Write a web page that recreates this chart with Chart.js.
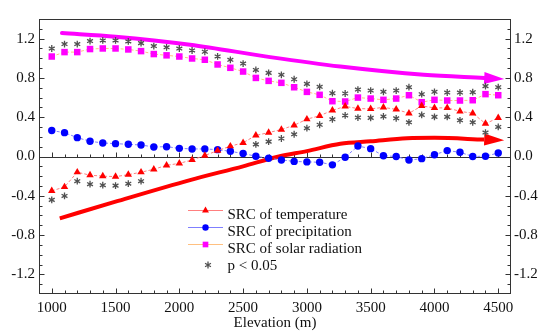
<!DOCTYPE html>
<html><head><meta charset="utf-8">
<script src="https://cdn.jsdelivr.net/npm/chart.js@4/dist/chart.umd.min.js"></script>
<style>html,body{margin:0;padding:0;background:#fff}canvas{display:block}</style>
</head><body>
<canvas id="c" width="550" height="334"></canvas>
<script>
// ---- data ----
const elevation = [1000,1100,1200,1300,1400,1500,1600,1700,1800,1900,2000,2100,2200,2300,2400,2500,2600,2700,2800,2900,3000,3100,3200,3300,3400,3500,3600,3700,3800,3900,4000,4100,4200,4300,4400,4500];
const srcTemperature = [-0.35,-0.31,-0.16,-0.19,-0.20,-0.205,-0.185,-0.16,-0.13,-0.09,-0.07,-0.035,0.01,0.06,0.105,0.14,0.215,0.243,0.275,0.318,0.38,0.415,0.47,0.51,0.488,0.485,0.50,0.48,0.44,0.515,0.495,0.495,0.46,0.44,0.335,0.393];
const srcPrecipitation = [0.264,0.243,0.192,0.155,0.138,0.131,0.124,0.117,0.097,0.10,0.083,0.077,0.077,0.07,0.053,0.03,0.003,-0.018,-0.035,-0.05,-0.055,-0.058,-0.085,-0.008,0.107,0.08,0.008,0.0,-0.036,-0.022,0.018,0.06,0.043,0.0,0.003,0.036];
const srcSolar = [1.018,1.063,1.063,1.094,1.10,1.10,1.09,1.073,1.043,1.03,1.018,0.998,0.985,0.937,0.903,0.865,0.80,0.77,0.75,0.705,0.658,0.628,0.563,0.56,0.60,0.59,0.577,0.59,0.624,0.553,0.577,0.57,0.57,0.573,0.635,0.624];
// significance flags (p < 0.05)
const sigTemperature = [1,1,1,1,1,1,1,1,0,0,0,0,0,0,0,0,1,1,1,1,1,1,1,1,1,1,1,1,1,1,1,1,1,1,1,1];
const sigPrecipitation = [0,0,0,0,0,0,0,0,0,0,0,0,0,0,0,0,0,0,0,0,0,0,0,0,0,0,0,0,0,0,0,0,0,0,0,0];
const sigSolar = [1,1,1,1,1,1,1,1,1,1,1,1,1,1,1,1,1,1,1,1,1,1,1,1,1,1,1,1,1,1,1,1,1,1,1,1];
// trend arrows (hand-drawn curves in the figure, read at a few points)
const trendSolarX = [1080,1500,2084,2712,3262,3916,4390];
const trendSolarY = [1.257,1.22,1.138,1.012,0.916,0.832,0.80];
const trendTempX = [1063,1500,2084,2500,2780,3000,3262,3500,3785,4000,4390];
const trendTempY = [-0.63,-0.46,-0.24,-0.10,0.0,0.055,0.13,0.155,0.185,0.19,0.172];
// axis ticks
const xTickValues = [1000,1500,2000,2500,3000,3500,4000,4500];
const yTickValues = [-1.2,-0.8,-0.4,0.0,0.4,0.8,1.2];
const seriesLabels = ['SRC of temperature','SRC of precipitation','SRC of solar radiation'];
const sigLabel = 'p < 0.05';

const FONT = 'Liberation Serif, Times New Roman, serif';
const pts = (xs, ys) => xs.map((x, i) => ({x: x, y: ys[i]}));

function drawAsterisk(ctx, x, y, r) {
  ctx.beginPath();
  for (let k = 0; k < 3; k++) {
    const a = Math.PI / 2 + k * Math.PI / 3;
    ctx.moveTo(x + Math.cos(a) * r, y + Math.sin(a) * r);
    ctx.lineTo(x - Math.cos(a) * r, y - Math.sin(a) * r);
  }
  ctx.stroke();
}
function drawMarker(ctx, style, x, y, r, color) {
  ctx.fillStyle = color;
  ctx.beginPath();
  if (style === 'triangle') {
    let a = 0;
    ctx.moveTo(x + Math.sin(a) * r, y - Math.cos(a) * r);
    a += 2 * Math.PI / 3; ctx.lineTo(x + Math.sin(a) * r, y - Math.cos(a) * r);
    a += 2 * Math.PI / 3; ctx.lineTo(x + Math.sin(a) * r, y - Math.cos(a) * r);
    ctx.closePath();
  } else if (style === 'circle') {
    ctx.arc(x, y, r, 0, Math.PI * 2);
  } else {
    const s = r * Math.SQRT1_2;
    ctx.rect(x - s, y - s, 2 * s, 2 * s);
  }
  ctx.fill();
}

const framePlugin = {
  id: 'frame',
  beforeDatasetsDraw(chart) {
    const {ctx, chartArea: a, scales} = chart;
    const xs = scales.x, ys = scales.y;
    ctx.save();
    ctx.strokeStyle = '#333';
    ctx.lineWidth = 1;
    ctx.strokeRect(Math.round(a.left) + 0.5, Math.round(a.top) + 0.5, Math.round(a.right - a.left) - 1, Math.round(a.bottom - a.top) - 1);
    const L = Math.round(a.left) + 0.5, R = Math.round(a.right) - 0.5, B = Math.round(a.bottom) - 0.5;
    const z = Math.round(ys.getPixelForValue(0)) + 0.5;
    ctx.beginPath();
    // zero line
    ctx.moveTo(L, z); ctx.lineTo(R, z);
    // x ticks (bottom and on zero line), inside / upward
    for (let v = xs.min; v <= xs.max; v += 100) {
      const major = xTickValues.includes(v);
      const len = major ? 5 : 3;
      const px = Math.round(xs.getPixelForValue(v)) + 0.5;
      if (px <= L + 1 || px >= R - 1) continue;
      ctx.moveTo(px, B); ctx.lineTo(px, B - len);
      ctx.moveTo(px, z); ctx.lineTo(px, z - len);
    }
    // y ticks left and right, inside
    for (let k = -14; k <= 14; k++) {
      const v = k / 10;
      const major = yTickValues.some(t => Math.abs(t - v) < 1e-9);
      const len = major ? 5 : 3;
      const py = Math.round(ys.getPixelForValue(v)) + 0.5;
      if (py <= a.top + 1 || py >= a.bottom - 1) continue;
      ctx.moveTo(L, py); ctx.lineTo(L + len, py);
      ctx.moveTo(R, py); ctx.lineTo(R - len, py);
    }
    ctx.stroke();
    ctx.restore();
  },
  afterDatasetsDraw(chart) {
    const {ctx} = chart;
    ctx.save();
    // arrow heads on trend curves
    [3, 4].forEach(di => {
      const meta = chart.getDatasetMeta(di);
      const n = meta.data.length;
      const p1 = meta.data[n - 2], p2 = meta.data[n - 1];
      const dx = p2.x - p1.x, dy = p2.y - p1.y, d = Math.hypot(dx, dy);
      const ux = dx / d, uy = dy / d;
      const len = 20, hw = 6;
      ctx.fillStyle = chart.data.datasets[di].borderColor;
      ctx.beginPath();
      ctx.moveTo(p2.x + ux * len, p2.y + uy * len);
      ctx.lineTo(p2.x - uy * hw, p2.y + ux * hw);
      ctx.lineTo(p2.x + uy * hw, p2.y - ux * hw);
      ctx.closePath();
      ctx.fill();
    });
    // significance asterisks
    ctx.strokeStyle = '#505050';
    ctx.lineWidth = 1.3;
    const sets = [[0, sigTemperature, 9], [1, sigPrecipitation, 9], [2, sigSolar, -8]];
    sets.forEach(([di, flags, off]) => {
      const meta = chart.getDatasetMeta(di);
      meta.data.forEach((pt, i) => {
        if (flags[i]) drawAsterisk(ctx, pt.x, pt.y + off, 3.4);
      });
    });
    ctx.restore();
  },
  afterDraw(chart) {
    const {ctx} = chart;
    ctx.save();
    const x0 = 188, x1 = 223, xm = 205.5, xt = 227.5;
    const base = [219, 236, 253, 270];
    ctx.font = '15px ' + FONT;
    ctx.fillStyle = '#111';
    ctx.textBaseline = 'alphabetic';
    ctx.textAlign = 'left';
    for (let i = 0; i < 3; i++) {
      const ds = chart.data.datasets[i];
      const ly = base[i] - 8.5;
      ctx.strokeStyle = ds.borderColor;
      ctx.lineWidth = 1;
      ctx.beginPath(); ctx.moveTo(x0, ly); ctx.lineTo(x1, ly); ctx.stroke();
      const r = ds.pointStyle === 'triangle' ? 4 : ds.pointStyle === 'circle' ? 3.2 : 4;
      drawMarker(ctx, ds.pointStyle, xm, ly, r, ds.pointBackgroundColor);
      ctx.fillStyle = '#111';
      ctx.fillText(ds.label, xt, base[i]);
    }
    ctx.strokeStyle = '#505050';
    ctx.lineWidth = 1.3;
    drawAsterisk(ctx, 208, base[3] - 5, 3.4);
    ctx.fillStyle = '#111';
    ctx.fillText(sigLabel, xt, base[3]);
    ctx.restore();
  }
};

const tickFont = {family: FONT, size: 15};
const yAxis = (pos, pad) => ({
  type: 'linear', position: pos, min: -1.4, max: 1.4,
  afterBuildTicks: s => { s.ticks = yTickValues.map(v => ({value: v})); },
  afterFit: s => { s.width = 39; },
  grid: {display: false, drawTicks: false},
  border: {display: false},
  ticks: {font: tickFont, color: '#111', padding: pad, callback: v => Number(v).toFixed(1)}
});

new Chart(document.getElementById('c'), {
  type: 'line',
  data: {
    datasets: [
      {label: seriesLabels[0], data: pts(elevation, srcTemperature), borderColor: '#ff7f7f', borderWidth: 1, borderDash: [3, 2],
       pointStyle: 'triangle', pointRadius: 4.3, pointBackgroundColor: '#ff0000', pointBorderColor: '#ff0000', pointBorderWidth: 0, tension: 0},
      {label: seriesLabels[1], data: pts(elevation, srcPrecipitation), borderColor: '#7f7fff', borderWidth: 1, borderDash: [3, 2],
       pointStyle: 'circle', pointRadius: 3.7, pointBackgroundColor: '#0000ff', pointBorderColor: '#0000ff', pointBorderWidth: 0, tension: 0},
      {label: seriesLabels[2], data: pts(elevation, srcSolar), borderColor: '#ffc080', borderWidth: 1, borderDash: [3, 2],
       pointStyle: 'rect', pointRadius: 4.6, pointBackgroundColor: '#ff00ff', pointBorderColor: '#ff00ff', pointBorderWidth: 0, tension: 0},
      {label: 'trend solar', data: pts(trendSolarX, trendSolarY), borderColor: '#ff00ff', borderWidth: 4, pointRadius: 0,
       cubicInterpolationMode: 'monotone', borderCapStyle: 'round'},
      {label: 'trend temperature', data: pts(trendTempX, trendTempY), borderColor: '#ff0000', borderWidth: 4, pointRadius: 0,
       cubicInterpolationMode: 'monotone', borderCapStyle: 'butt'}
    ]
  },
  options: {
    responsive: false, animation: false, devicePixelRatio: 1,
    layout: {padding: {top: 19, left: 0, right: 0, bottom: 0}},
    plugins: {legend: {display: false}, tooltip: {enabled: false}},
    scales: {
      x: {
        type: 'linear', position: 'bottom', min: 900, max: 4600,
        afterBuildTicks: s => { s.ticks = xTickValues.map(v => ({value: v})); },
        afterFit: s => { s.height = 40; },
        grid: {display: false, drawTicks: false},
        border: {display: false},
        ticks: {font: tickFont, color: '#111', padding: 5, maxRotation: 0, autoSkip: false, callback: v => String(v)},
        title: {display: true, text: 'Elevation (m)', font: tickFont, color: '#111', padding: {top: 0, bottom: 2}}
      },
      y: yAxis('left', 4),
      y2: yAxis('right', 3)
    }
  },
  plugins: [framePlugin]
});
</script>
</body></html>
